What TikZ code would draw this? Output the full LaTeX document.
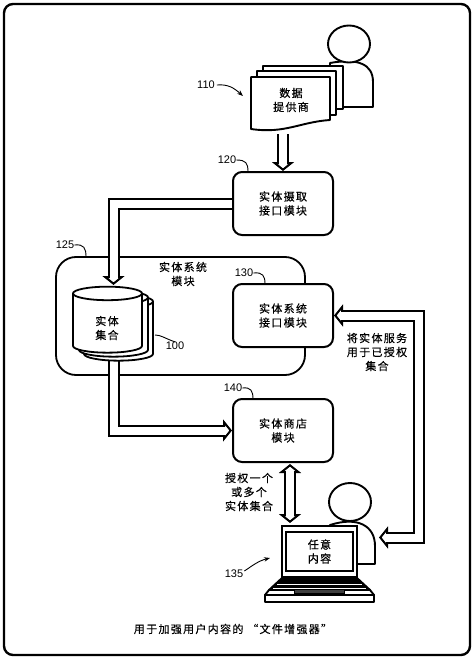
\documentclass[tikz,border=0pt]{standalone}
\usepackage{fontspec}
\usepackage{tikz}
\usetikzlibrary{positioning,arrows.meta,shapes.geometric,calc}
\setmainfont{Liberation Sans}
\newfontfamily\cjk[LetterSpace=12,FakeBold=0.4]{Noto Sans CJK SC}
\newcommand{\colvacio}{\phantom{实体}\\\phantom{集合}}
\tikzset{
  modulo/.style={rectangle, rounded corners=9pt, draw=black, line width=2pt, fill=white,
    minimum width=100pt, minimum height=63pt, align=center, inner sep=0pt, font=\cjk\fontsize{11}{14}\selectfont},
  marco/.style={rectangle, rounded corners=20pt, draw=black, line width=1.8pt, fill=white,
    minimum width=249pt, minimum height=118pt, inner sep=0pt},
  cilindro/.style={cylinder, shape border rotate=90, aspect=0.58, draw=black, line width=1.8pt, fill=white,
    minimum width=69pt, minimum height=66pt, inner sep=0pt, align=center, font=\cjk\fontsize{11}{14}\selectfont},
  etq/.style={align=center, inner sep=0pt, font=\cjk\fontsize{11}{14}\selectfont},
  num/.style={inner sep=0pt, font=\fontsize{11}{13}\selectfont},
  guia/.style={line width=0.9pt, draw=black},
  linea/.style={line width=1.9pt, draw=black, line join=round},
  puntaF/.tip={Triangle[length=9pt, width=22pt, line width=2pt, fill=white]},
  hueco/.style={line width=12pt, draw=black, miter limit=10,
    postaction={draw=white, line width=8pt, arrows=-, shorten >=#1}},
  hueco/.default=6pt,
  huecod/.style={line width=12pt, draw=black, miter limit=10,
    postaction={draw=white, line width=8pt, arrows=-, shorten >=6pt, shorten <=6pt}},
}
\begin{document}
\begin{tikzpicture}[x=1pt, y=-1pt]
  \useasboundingbox (0,0) rectangle (474,658);
  \draw[line width=2.4pt, rounded corners=9pt] (4,4) rectangle (470,655);

  % persona de arriba y documentos
  \draw[linea, fill=white] (330,63) .. controls (358,58) and (373,64) .. (373,82) -- (373,107) -- (330,107) -- cycle;
  \draw[linea, fill=white] (349,44) ellipse (21 and 18.5);
  \draw[linea, fill=white] (263,66) -- (343,66) -- (343,109) -- (263,109) -- cycle;
  \draw[linea, fill=white] (257,71) -- (336,71) -- (336,115) -- (257,115) -- cycle;
  \draw[linea, fill=white] (251,77) -- (330,77) -- (330,120)
    .. controls (300,122) and (285,134) .. (251,129) -- cycle;
  \node[etq] (datos) at (291,100) {数据\\提供商};

  % modulos
  \node[modulo] (ingesta) at (283,203.5) {实体摄取\\接口模块};
  \node[marco] (sistema) at (180.5,316) {};
  \node[etq] (sistxt) at (183,274) {实体系统\\模块};
  \node[modulo] (interfaz) at (283,315.5) {实体系统\\接口模块};
  \node[modulo] (tienda) at (283,430.5) {实体商店\\模块};

  % puntos libres de las flechas
  \coordinate (docsal) at (283,134);
  \coordinate (colent) at (113.5,285);
  \coordinate (colsal) at (113.5,360);
  \coordinate (tiesal) at (290,464);
  \coordinate (lapent) at (290,523);
  \coordinate (usuent) at (379,537.5);
  \coordinate (lazo) at (418.5,420);

  \draw[hueco, -puntaF] (docsal) -- (ingesta.north);
  \draw[hueco, -puntaF] (ingesta.west) -| (colent);
  \draw[hueco, -puntaF] (colsal) |- (tienda.west);
  \draw[huecod, puntaF-puntaF] (tiesal) -- (lapent);
  \draw[huecod, puntaF-puntaF] (interfaz.east) -| (lazo) |- (usuent);

  % coleccion
  \node[cilindro] (col3) at (118.5,331.5) {\colvacio};
  \node[cilindro] (col2) at (113.5,327.5) {\colvacio};
  \node[cilindro] (col1) at (107.5,323.5) {\colvacio};
  \node[etq] (coltxt) at (107,328) {实体\\集合};

  % usuario y portatil
  \draw[linea, fill=white] (330,525) .. controls (358,516) and (375,526) .. (375,546) -- (375,564) -- (330,564) -- cycle;
  \draw[linea, fill=white] (350,502) ellipse (21 and 19);
  \node[rectangle, draw=black, line width=1.8pt, fill=white, minimum width=75pt, minimum height=51pt, inner sep=0pt] (pantalla) at (319.5,551.5) {};
  \node[rectangle, draw=black, line width=1.8pt, minimum width=67pt, minimum height=39pt, align=center, inner sep=0pt, font=\cjk\fontsize{11}{14}\selectfont] (contenido) at (319.5,551.5) {任意\\内容};
  \draw[linea, fill=black] (282,578) -- (357,578) -- (370,590) -- (269,590) -- cycle;
  \draw[white, line width=0.7pt] (277,584) -- (362,584) (273,588) -- (366,588);
  \draw[linea, fill=white] (269,590) -- (370,590) -- (374,595) -- (265,595) -- cycle;
  \draw[fill=black!75, draw=black] (294,589) rectangle (344,593);
  \draw[linea, fill=white] (265,595) rectangle (374,602);

  % textos sueltos
  \node[etq] (autoriza) at (249,492) {授权一个\\或多个\\实体集合};
  \node[etq] (servicio) at (377,352) {将实体服务\\用于已授权\\集合};
  \node[etq] (titulo) at (233,629) {用于加强用户内容的~“文件增强器”};

  % numeros
  \node[num] (n110) at (206,85) {110};
  \node[num] (n120) at (227,160) {120};
  \node[num] (n125) at (65,245) {125};
  \node[num] (n130) at (244,273) {130};
  \node[num] (n140) at (233,388) {140};
  \node[num] (n100) at (175,346) {100};
  \node[num] (n135) at (234,574) {135};
  \draw[guia, -{Stealth[length=6pt]}] (n110.east) ++(2,0) .. controls (228,84) and (234,88) .. (243,96);
  \draw[guia, -{Stealth[length=6pt]}] (n135.east) ++(1,-3) .. controls (252,566) and (258,561) .. (270,558);
  \draw[guia] (n120.east) .. controls (246,160) and (248,163) .. (248,172);
  \draw[guia] (n125.east) .. controls (84,244) and (86,248) .. (86,257);
  \draw[guia] (n130.east) .. controls (263,272) and (265,276) .. (265,284);
  \draw[guia] (n140.east) .. controls (251,387) and (253,391) .. (253,399);
  \draw[guia] (155,335) .. controls (161,335) and (164,338) .. (n100.north);
\end{tikzpicture}
\end{document}
